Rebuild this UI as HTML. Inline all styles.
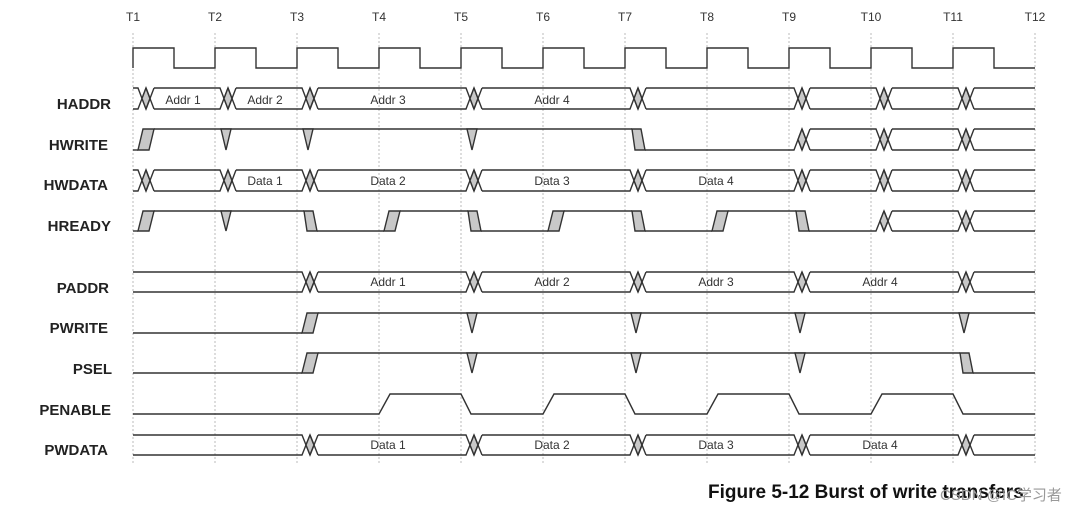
<!DOCTYPE html>
<html><head><meta charset="utf-8"><style>
body{margin:0;background:#fff;}
svg{display:block;font-family:"Liberation Sans",Arial,sans-serif;}
.lb{font-weight:bold;font-size:15px;fill:#222;text-anchor:end}
.t{font-size:12px;fill:#333;text-anchor:middle}
.v{font-size:12px;fill:#333;text-anchor:middle}
</style></head><body>
<svg id="s" width="1081" height="513" viewBox="0 0 1081 513" xmlns="http://www.w3.org/2000/svg">
<g id="g"></g>
<text class="t" x="133" y="21">T1</text><text class="t" x="215" y="21">T2</text><text class="t" x="297" y="21">T3</text><text class="t" x="379" y="21">T4</text><text class="t" x="461" y="21">T5</text><text class="t" x="543" y="21">T6</text><text class="t" x="625" y="21">T7</text><text class="t" x="707" y="21">T8</text><text class="t" x="789" y="21">T9</text><text class="t" x="871" y="21">T10</text><text class="t" x="953" y="21">T11</text><text class="t" x="1035" y="21">T12</text>
<text class="lb" x="111" y="109">HADDR</text>
<text class="lb" x="108" y="150">HWRITE</text>
<text class="lb" x="108" y="190">HWDATA</text>
<text class="lb" x="111" y="231">HREADY</text>
<text class="lb" x="109" y="293">PADDR</text>
<text class="lb" x="108" y="333">PWRITE</text>
<text class="lb" x="112" y="374">PSEL</text>
<text class="lb" x="111" y="415">PENABLE</text>
<text class="lb" x="108" y="455">PWDATA</text>
<text class="v" x="183" y="104">Addr 1</text><text class="v" x="265" y="104">Addr 2</text><text class="v" x="388" y="104">Addr 3</text><text class="v" x="552" y="104">Addr 4</text>
<text class="v" x="265" y="185">Data 1</text><text class="v" x="388" y="185">Data 2</text><text class="v" x="552" y="185">Data 3</text><text class="v" x="716" y="185">Data 4</text>
<text class="v" x="388" y="286">Addr 1</text><text class="v" x="552" y="286">Addr 2</text><text class="v" x="716" y="286">Addr 3</text><text class="v" x="880" y="286">Addr 4</text>
<text class="v" x="388" y="449">Data 1</text><text class="v" x="552" y="449">Data 2</text><text class="v" x="716" y="449">Data 3</text><text class="v" x="880" y="449">Data 4</text>
<text x="708" y="498" style="font-weight:bold;font-size:19px;fill:#111">Figure 5-12 Burst of write transfers</text>
<text x="940" y="500" style="font-size:15px;fill:#999;font-family:'Liberation Sans','Noto Sans CJK SC',sans-serif">CSDN @IC学习者</text>
</svg>
<script>
var g=document.getElementById('g'),h='';
var T=[];for(var i=1;i<=12;i++)T[i]=133+82*(i-1);
var S='#333',G='#c8c8c8';
function L(p){h+='<polyline points="'+p+'" fill="none" stroke="'+S+'" stroke-width="1.4"/>';}
function P(p){h+='<polygon points="'+p+'" fill="'+G+'" stroke="'+S+'" stroke-width="1.4"/>';}
for(i=1;i<=12;i++)h+='<line x1="'+T[i]+'" y1="33" x2="'+T[i]+'" y2="463" stroke="#bbb" stroke-width="1" stroke-dasharray="2,2"/>';
var c='133,68 133,48';for(i=1;i<=11;i++){c+=' '+(T[i]+41)+',48 '+(T[i]+41)+',68 ';if(i<11)c+=T[i+1]+',68 '+T[i+1]+',48';else c+=' 1035,68';}L(c);
function bus(top,bot,trs,start,lvl){var m=(top+bot)/2;var prev=start;var first=true;
 trs.forEach(function(t){var x=T[t],a=x+5,b=x+21;
  var skipTop=first&&lvl=='low';
  if(skipTop){L(prev+','+bot+' '+a+','+bot+' '+(a+8)+','+top);L((a+4)+','+m+' '+(a+8)+','+bot);}
  else{L(prev+','+top+' '+a+','+top+' '+(a+8)+','+bot);L(prev+','+bot+' '+a+','+bot+' '+(a+8)+','+top);}
  P((a+4)+','+m+' '+(a+8)+','+top+' '+(b-4)+','+m+' '+(a+8)+','+bot);
  L((b-8)+','+top+' '+b+','+bot);L((b-8)+','+bot+' '+b+','+top);prev=b;first=false;});
 L(prev+','+top+' 1035,'+top);L(prev+','+bot+' 1035,'+bot);}
function V(top,bot,t){var x=T[t];P((x+6)+','+top+' '+(x+16)+','+top+' '+(x+11)+','+bot);}
function rise(top,bot,t){var x=T[t];P((x+5)+','+bot+' '+(x+16)+','+bot+' '+(x+21)+','+top+' '+(x+10)+','+top);}
function fall(top,bot,t){var x=T[t];P((x+7)+','+top+' '+(x+16)+','+top+' '+(x+20)+','+bot+' '+(x+10)+','+bot);}
bus(88,109,[1,2,3,5,7,9,10,11],133);
L('133,150 138,150');rise(129,150,1);L('154,129 632,129');V(129,150,2);V(129,150,3);V(129,150,5);fall(129,150,7);
bus(129,150,[9,10,11],645,'low');
bus(170,191,[1,2,3,5,7,9,10,11],133);
var t1=211,b1=231;L('133,231 138,231');rise(t1,b1,1);
L('154,211 304,211');V(t1,b1,2);fall(t1,b1,3);L('317,231 384,231');rise(t1,b1,4);L('400,211 468,211');fall(t1,b1,5);L('481,231 548,231');rise(t1,b1,6);L('564,211 632,211');fall(t1,b1,7);L('645,231 712,231');rise(t1,b1,8);L('728,211 796,211');fall(t1,b1,9);
bus(t1,b1,[10,11],809,'low');
bus(272,292,[3,5,7,9,11],133);
L('133,333 302,333');rise(313,333,3);L('318,313 1035,313');V(313,333,5);V(313,333,7);V(313,333,9);V(313,333,11);
L('133,373 302,373');rise(353,373,3);L('318,353 960,353');V(353,373,5);V(353,373,7);V(353,373,9);fall(353,373,11);L('973,373 1035,373');
L('133,414 379,414 390,394 461,394 471,414 543,414 554,394 625,394 635,414 707,414 718,394 789,394 799,414 871,414 882,394 953,394 963,414 1035,414');
bus(435,455,[3,5,7,9,11],133);
g.innerHTML=h;
</script>
</body></html>
